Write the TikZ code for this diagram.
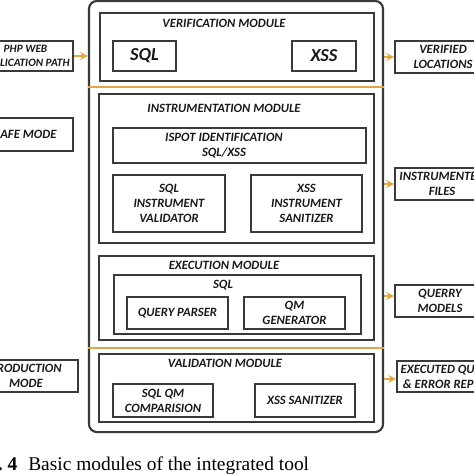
\documentclass[tikz,border=0pt]{standalone}
\usepackage{fontspec}
\setmainfont{Liberation Serif}
\newfontfamily\boxfont{Carlito}
\usepackage{tikz}
\usetikzlibrary{arrows,shapes,positioning,calc}
\usepackage{xcolor}
\definecolor{tlgray}{RGB}{58,58,58}
\definecolor{tltext}{RGB}{25,25,25}
\definecolor{tlorange}{RGB}{222,168,72}
\tikzstyle{arrow} = [line width=1.5pt,->,>=stealth,color=tlorange]
\tikzstyle{sepline} = [line width=1.8pt,color=tlorange]
\tikzstyle{modbox} = [rectangle, draw=tlgray, line width=1.2pt, inner sep=0pt]
\tikzstyle{itembox} = [rectangle, draw=tlgray, line width=1.2pt, inner sep=1pt, align=center, text=tltext, font=\boxfont\bfseries\itshape\fontsize{9}{10.6}\selectfont]
\tikzstyle{modtitle} = [inner sep=0pt, text=tltext, font=\boxfont\bfseries\itshape\fontsize{9}{10.6}\selectfont]

\begin{document}
\begin{tikzpicture}[x=0.025cm, y=-0.025cm]
    \useasboundingbox (0,0) rectangle (474,474);
    \clip (0,0) rectangle (474,474);

    % Integrated tool
    \node[modbox, rounded corners=0.2cm, line width=1.5pt, minimum width=7.35cm, minimum height=10.775cm] (tool) at (236,216.5) {};

    % Verification module
    \node[modbox, minimum width=6.85cm, minimum height=1.7cm] (verif) at (237,47) {};
    \node[modtitle] (veriftitle) at (224,23) {VERIFICATION MODULE};
    \node[itembox, minimum width=1.575cm, minimum height=0.75cm, font=\boxfont\bfseries\itshape\fontsize{13}{15}\selectfont] (sqlv) at (144.5,56) {SQL};
    \node[itembox, minimum width=1.6cm, minimum height=0.75cm, font=\boxfont\bfseries\itshape\fontsize{13}{15}\selectfont] (xssv) at (324,56) {XSS};

    % Instrumentation module
    \node[modbox, minimum width=6.875cm, minimum height=3.725cm] (instr) at (236.5,168.5) {};
    \node[modtitle] (instrtitle) at (224,108) {INSTRUMENTATION MODULE};
    \node[itembox, minimum width=6.325cm, minimum height=0.875cm] (ispot) at (239.5,145.5) {};
    \node[modtitle, align=center] (ispottext) at (224,145.5) {ISPOT IDENTIFICATION\\SQL/XSS};
    \node[itembox, minimum width=2.8cm, minimum height=1.425cm] (sqliv) at (169,203.5) {SQL\\INSTRUMENT\\VALIDATOR};
    \node[itembox, minimum width=2.775cm, minimum height=1.425cm] (xssis) at (306.5,203.5) {XSS\\INSTRUMENT\\SANITIZER};

    % Execution module
    \node[modbox, minimum width=6.875cm, minimum height=2.1cm] (exec) at (236.5,298) {};
    \node[modtitle] (exectitle) at (224,265) {EXECUTION MODULE};
    \node[modbox, minimum width=6.175cm, minimum height=1.475cm] (execsql) at (237.5,304.5) {};
    \node[modtitle] (execsqltitle) at (223,285) {SQL};
    \node[itembox, minimum width=2.525cm, minimum height=0.8cm] (qparser) at (177.5,313) {QUERY PARSER};
    \node[itembox, minimum width=2.525cm, minimum height=0.8cm] (qmgen) at (294.5,313) {QM\\GENERATOR};

    % Validation module
    \node[modbox, minimum width=6.875cm, minimum height=1.7cm] (valid) at (236.5,388) {};
    \node[modtitle] (validtitle) at (225,363) {VALIDATION MODULE};
    \node[itembox, minimum width=2.5cm, minimum height=0.825cm] (sqlqm) at (163,400.5) {SQL QM\\COMPARISION};
    \node[itembox, minimum width=2.5cm, minimum height=0.825cm] (xsssan) at (305,400.5) {XSS SANITIZER};

    % Separators
    \draw[sepline] (tool.west |- 0,87) -- (tool.east |- 0,87);
    \draw[sepline] (tool.west |- 0,348) -- (tool.east |- 0,348);

    % Inputs
    \node[itembox, minimum width=2.375cm, minimum height=0.75cm, font=\boxfont\bfseries\itshape\fontsize{8}{9.5}\selectfont] (php) at (25.5,56) {PHP WEB\\APPLICATION PATH};
    \node[itembox, minimum width=2.375cm, minimum height=0.825cm] (safe) at (25.5,134.5) {SAFE MODE};
    \node[itembox, minimum width=2.6cm, minimum height=0.8cm] (prod) at (26,376) {PRODUCTION\\MODE};

    % Outputs
    \node[itembox, minimum width=2.4cm, minimum height=0.8cm] (verloc) at (443,57) {VERIFIED\\LOCATIONS};
    \node[itembox, minimum width=2.35cm, minimum height=0.8cm] (instfiles) at (442,184) {INSTRUMENTED\\FILES};
    \node[itembox, minimum width=2.25cm, minimum height=0.8cm] (qmodels) at (440,301) {QUERRY\\MODELS};
    \node[itembox, minimum width=2.75cm, minimum height=0.775cm] (execq) at (452,376.5) {EXECUTED QUERIES\\\& ERROR REPORTS};

    % Arrows
    \draw[arrow] (php.east) -- (php.east -| tool.west);
    \draw[arrow] (verloc.west -| tool.east) -- (verloc.west);
    \draw[arrow] (instfiles.west -| tool.east) -- (instfiles.west);
    \draw[arrow] ($(qmodels.west -| tool.east)+(0,-5)$) -- ($(qmodels.west)+(0,-5)$);
    \draw[arrow] ($(execq.west -| tool.east)+(0,2.5)$) -- ($(execq.west)+(0,2.5)$);

    % Caption
    \node[anchor=base east, inner sep=0pt, font=\fontsize{13.8}{16}\selectfont] (capnum) at (17.5,470) {\textbf{Fig.~4}};
    \node[anchor=base west, inner sep=0pt, font=\fontsize{13.8}{16}\selectfont] (captext) at (28,470) {Basic modules of the integrated tool};
\end{tikzpicture}
\end{document}
